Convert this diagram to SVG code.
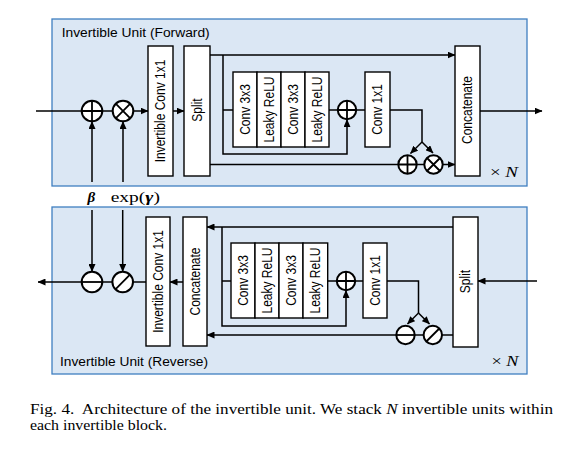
<svg xmlns="http://www.w3.org/2000/svg" width="562" height="454" viewBox="0 0 562 454">
<defs>
<style>
.panel{fill:#dbe7f4;stroke:#3f7fc1;stroke-width:1.3}
.box{fill:#fff;stroke:#000;stroke-width:1.4}
.op{fill:#fff;stroke:#000;stroke-width:2}
.opl{stroke:#000;stroke-width:1.8;fill:none}
.c{fill:none;stroke:#000;stroke-width:1.5}
.a{marker-end:url(#arr)}
.lbl{font-family:"Liberation Sans",Arial,sans-serif;font-size:12px;fill:#000;text-anchor:middle}
.title{font-family:"Liberation Sans",Arial,sans-serif;font-size:12.5px;fill:#000}
.math{font-family:"Liberation Serif","Times New Roman",serif;font-size:15px;fill:#000}
.cap{font-family:"Liberation Serif","Times New Roman",serif;font-size:14.5px;fill:#000}
</style>
<marker id="arr" markerUnits="userSpaceOnUse" markerWidth="8" markerHeight="7" refX="7.5" refY="3.5" orient="auto">
<path d="M0,0 L8,3.5 L0,7 z" fill="#000"/>
</marker>
</defs>

<!-- panels -->
<g id="panel-forward">
<rect class="panel" x="52" y="19" width="475" height="167"/>
<text class="title" x="61.7" y="36.5" textLength="148" lengthAdjust="spacingAndGlyphs">Invertible Unit (Forward)</text>
<text class="math" x="490" y="176.5" textLength="28" lengthAdjust="spacingAndGlyphs">× <tspan font-style="italic">N</tspan></text>
</g>
<g id="panel-reverse">
<rect class="panel" x="52" y="207" width="475" height="167"/>
<text class="title" x="60" y="365.5" textLength="148" lengthAdjust="spacingAndGlyphs">Invertible Unit (Reverse)</text>
<text class="math" x="491.5" y="365.5" textLength="27" lengthAdjust="spacingAndGlyphs">× <tspan font-style="italic">N</tspan></text>
</g>

<!-- connectors -->
<g id="connectors">
<!-- forward -->
<path class="c" d="M36,111 H81.7"/>
<path class="c" d="M102.3,111 H112.7"/>
<path class="c a" d="M133.3,111 H148"/>
<path class="c a" d="M173,111 H184"/>
<path class="c a" d="M210,55 H455"/>
<path class="c a" d="M223,55 V154 H347 V119.6"/>
<path class="c" d="M223,110 H233"/>
<path class="c" d="M329,110 H337.8"/>
<path class="c" d="M356.2,110 H365"/>
<path class="c" d="M390,110 H422 V142"/>
<path class="c a" d="M422,142 L410.5,153.5"/>
<path class="c a" d="M422,142 L433,153"/>
<path class="c" d="M210,164.5 H398.3"/>
<path class="c" d="M416.7,164.5 H424.3"/>
<path class="c a" d="M442.7,164.5 H455"/>
<path class="c a" d="M480,111 H542"/>
<path class="c a" d="M92,182 V121.5"/>
<path class="c a" d="M123,182 V121.5"/>
<!-- reverse -->
<path class="c a" d="M537,281 H478"/>
<path class="c a" d="M453,227 H207"/>
<path class="c a" d="M222,227 V326 H346 V290.4"/>
<path class="c" d="M222,281 H231"/>
<path class="c" d="M327.7,281 H336.8"/>
<path class="c" d="M355.2,281 H363"/>
<path class="c" d="M387,281 H418.5 V313"/>
<path class="c a" d="M418.5,313 L407.5,324"/>
<path class="c a" d="M418.5,313 L429.5,324"/>
<path class="c" d="M453,335 H442"/>
<path class="c" d="M423.6,335 H414.7"/>
<path class="c a" d="M396.3,335 H207"/>
<path class="c a" d="M183,282 H170"/>
<path class="c" d="M146,282 H133"/>
<path class="c" d="M112.4,282 H102.3"/>
<path class="c a" d="M81.7,282 H38"/>
<path class="c a" d="M92,210 V271.5"/>
<path class="c a" d="M122.7,210 V271.5"/>
</g>

<!-- forward nodes -->
<g id="f-add">
<circle class="op" cx="92" cy="111" r="10.3"/>
<path class="opl" d="M81.7,111 H102.3 M92,100.7 V121.3"/>
</g>
<g id="f-mul">
<circle class="op" cx="123" cy="111" r="10.3"/>
<path class="opl" d="M115.7,103.7 L130.3,118.3 M115.7,118.3 L130.3,103.7"/>
</g>
<g id="f-invconv">
<rect class="box" x="148" y="46" width="25" height="130"/>
<text class="lbl" dy="0.35em" transform="translate(160.5,111) scale(1.15,1) rotate(-90)">Invertible Conv 1x1</text>
</g>
<g id="f-split">
<rect class="box" x="184" y="46" width="26" height="130"/>
<text class="lbl" dy="0.35em" transform="translate(197,110) scale(1.15,1) rotate(-90)">Split</text>
</g>
<g id="f-conv1">
<rect class="box" x="233" y="72" width="24" height="75"/>
<text class="lbl" dy="0.35em" transform="translate(245,109.5) scale(1.15,1) rotate(-90)">Conv 3x3</text>
</g>
<g id="f-relu1">
<rect class="box" x="257" y="72" width="24" height="75"/>
<text class="lbl" dy="0.35em" transform="translate(269,109.5) scale(1.15,1) rotate(-90)">Leaky ReLU</text>
</g>
<g id="f-conv2">
<rect class="box" x="281" y="72" width="24" height="75"/>
<text class="lbl" dy="0.35em" transform="translate(293,109.5) scale(1.15,1) rotate(-90)">Conv 3x3</text>
</g>
<g id="f-relu2">
<rect class="box" x="305" y="72" width="24" height="75"/>
<text class="lbl" dy="0.35em" transform="translate(317,109.5) scale(1.15,1) rotate(-90)">Leaky ReLU</text>
</g>
<g id="f-res">
<circle class="op" cx="347" cy="110" r="9.2"/>
<path class="opl" d="M337.8,110 H356.2 M347,100.8 V119.2"/>
</g>
<g id="f-conv1x1">
<rect class="box" x="365" y="72" width="25" height="75"/>
<text class="lbl" dy="0.35em" transform="translate(377.5,109.5) scale(1.15,1) rotate(-90)">Conv 1x1</text>
</g>
<g id="f-add2">
<circle class="op" cx="407.5" cy="164.5" r="9.2"/>
<path class="opl" d="M398.3,164.5 H416.7 M407.5,155.3 V173.7"/>
</g>
<g id="f-mul2">
<circle class="op" cx="433.5" cy="164.5" r="9.2"/>
<path class="opl" d="M427,158 L440,171 M427,171 L440,158"/>
</g>
<g id="f-concat">
<rect class="box" x="455" y="46" width="25" height="130"/>
<text class="lbl" dy="0.35em" transform="translate(467.5,110) scale(1.15,1) rotate(-90)">Concatenate</text>
</g>

<!-- shared parameters -->
<g id="params">
<text class="math" x="91.3" y="202" text-anchor="middle" font-weight="bold" font-style="italic">β</text>
<text class="math" x="110.7" y="202" textLength="49.3" lengthAdjust="spacingAndGlyphs">exp(<tspan font-weight="bold" font-style="italic">γ</tspan>)</text>
</g>

<!-- reverse nodes -->
<g id="r-sub">
<circle class="op" cx="92" cy="282" r="10.3"/>
<path class="opl" d="M81.7,282 H102.3"/>
</g>
<g id="r-div">
<circle class="op" cx="122.7" cy="282" r="10.3"/>
<path class="opl" d="M115.4,289.3 L130,274.7"/>
</g>
<g id="r-invconv">
<rect class="box" x="146" y="217" width="24" height="129"/>
<text class="lbl" dy="0.35em" transform="translate(158,281.5) scale(1.15,1) rotate(-90)">Invertible Conv 1x1</text>
</g>
<g id="r-concat">
<rect class="box" x="183" y="217" width="24" height="129"/>
<text class="lbl" dy="0.35em" transform="translate(195,281.5) scale(1.15,1) rotate(-90)">Concatenate</text>
</g>
<g id="r-conv1">
<rect class="box" x="231" y="243" width="24" height="75"/>
<text class="lbl" dy="0.35em" transform="translate(243,280.5) scale(1.15,1) rotate(-90)">Conv 3x3</text>
</g>
<g id="r-relu1">
<rect class="box" x="255" y="243" width="24" height="75"/>
<text class="lbl" dy="0.35em" transform="translate(267,280.5) scale(1.15,1) rotate(-90)">Leaky ReLU</text>
</g>
<g id="r-conv2">
<rect class="box" x="279" y="243" width="24" height="75"/>
<text class="lbl" dy="0.35em" transform="translate(291,280.5) scale(1.15,1) rotate(-90)">Conv 3x3</text>
</g>
<g id="r-relu2">
<rect class="box" x="303" y="243" width="24.7" height="75"/>
<text class="lbl" dy="0.35em" transform="translate(315.3,280.5) scale(1.15,1) rotate(-90)">Leaky ReLU</text>
</g>
<g id="r-res">
<circle class="op" cx="346" cy="281" r="9.2"/>
<path class="opl" d="M336.8,281 H355.2 M346,271.8 V290.2"/>
</g>
<g id="r-conv1x1">
<rect class="box" x="363" y="243" width="24" height="75"/>
<text class="lbl" dy="0.35em" transform="translate(375,280.5) scale(1.15,1) rotate(-90)">Conv 1x1</text>
</g>
<g id="r-sub2">
<circle class="op" cx="405.5" cy="335" r="9.2"/>
<path class="opl" d="M396.3,335 H414.7"/>
</g>
<g id="r-div2">
<circle class="op" cx="432.8" cy="335" r="9.2"/>
<path class="opl" d="M426.3,341.5 L439.3,328.5"/>
</g>
<g id="r-split">
<rect class="box" x="453" y="217" width="25" height="130"/>
<text class="lbl" dy="0.35em" transform="translate(465.5,281.5) scale(1.15,1) rotate(-90)">Split</text>
</g>

<!-- caption -->
<g id="caption">
<text class="cap" x="30" y="414" textLength="523" lengthAdjust="spacingAndGlyphs" xml:space="preserve">Fig. 4.  Architecture of the invertible unit. We stack <tspan font-style="italic">N</tspan> invertible units within</text>
<text class="cap" x="30" y="430" textLength="137" lengthAdjust="spacingAndGlyphs">each invertible block.</text>
</g>
</svg>
